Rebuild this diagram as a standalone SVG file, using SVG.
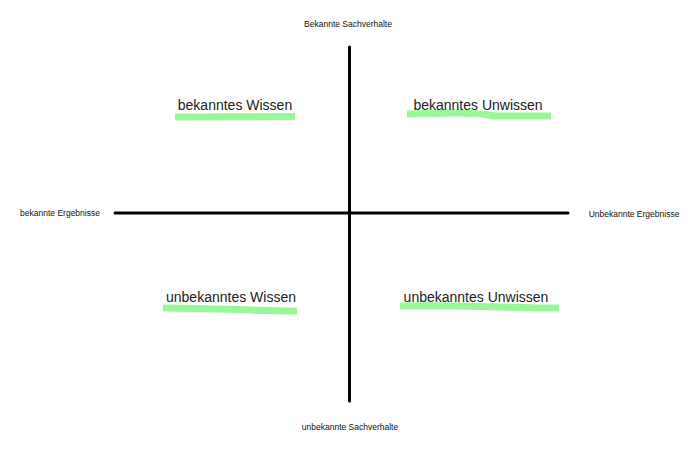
<svg xmlns="http://www.w3.org/2000/svg" width="696" height="449" viewBox="0 0 696 449">
<style>
.axis{stroke:#000;stroke-width:3;fill:none;stroke-linecap:round}
.hl{stroke:#99f799;fill:none;stroke-linecap:butt;stroke-linejoin:round}
.small{font-family:"Liberation Sans",Arial,sans-serif;font-size:8.5px;fill:#111}
.big{font-family:"Liberation Sans",Arial,sans-serif;font-size:14px;fill:#222}
</style>
<rect width="696" height="449" fill="#fff"/>
<g id="connectors">
<line class="axis" x1="349.5" y1="47" x2="349.5" y2="401"/>
<line class="axis" x1="115" y1="213" x2="568" y2="213"/>
</g>
<g id="label-top"><text class="small" x="348" y="27" text-anchor="middle">Bekannte Sachverhalte</text></g>
<g id="label-bottom"><text class="small" x="350" y="430" text-anchor="middle">unbekannte Sachverhalte</text></g>
<g id="label-left"><text class="small" x="60" y="216" text-anchor="middle">bekannte Ergebnisse</text></g>
<g id="label-right"><text class="small" x="634" y="217" text-anchor="middle">Unbekannte Ergebnisse</text></g>
<g id="q1">
<path class="hl" stroke-width="7" d="M175 117 L295 116.5"/>
<text class="big" x="235" y="110" text-anchor="middle">bekanntes Wissen</text>
</g>
<g id="q2">
<path class="hl" stroke-width="7" d="M407 114 C450 113 480 112 495 116 L551 116"/>
<text class="big" x="478" y="110" text-anchor="middle">bekanntes Unwissen</text>
</g>
<g id="q3">
<path class="hl" stroke-width="7" d="M163 308 C220 308 250 311 297 311"/>
<text class="big" x="231" y="302" text-anchor="middle">unbekanntes Wissen</text>
</g>
<g id="q4">
<path class="hl" stroke-width="7" d="M400 306 C470 305 510 308 559 308"/>
<text class="big" x="476" y="302" text-anchor="middle">unbekanntes Unwissen</text>
</g>
</svg>
